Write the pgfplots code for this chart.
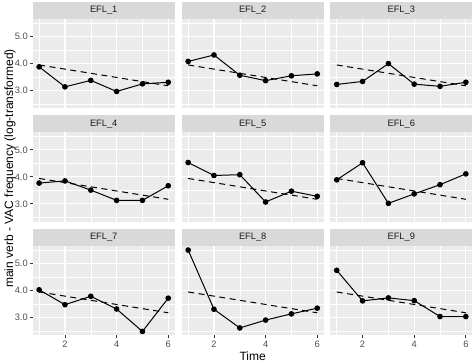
\documentclass[border=0pt]{standalone}
\usepackage{pgfplots}
\pgfplotsset{compat=1.18}
\usepackage{fontspec}
\setmainfont{Liberation Sans}
\definecolor{panelbg}{HTML}{EBEBEB}
\definecolor{stripbg}{HTML}{D9D9D9}
\definecolor{ticktext}{HTML}{4D4D4D}
\definecolor{striptext}{HTML}{1A1A1A}
\definecolor{tickcol}{HTML}{333333}
\pgfplotsset{
  facet/.style={
    scale only axis, width=142pt, height=89.5pt,
    xmin=0.75, xmax=6.25, ymin=2.33, ymax=5.64,
    axis background/.style={fill=panelbg},
    axis line style={draw=none},
    xtick={2,4,6}, ytick={3,4,5},
    minor xtick={1,3,5}, minor ytick={2.5,3.5,4.5,5.5},
    grid=both,
    major grid style={white, line width=1.1pt},
    minor grid style={white, line width=0.55pt},
    tick align=outside, xtick pos=bottom, ytick pos=left,
    major tick length=3pt, minor tick length=0pt,
    tick style={tickcol, line width=0.8pt},
    /pgf/number format/assume math mode=true,
    yticklabel style={/pgf/number format/fixed, /pgf/number format/fixed zerofill, /pgf/number format/precision=1,
      font=\fontsize{9.3}{10}\selectfont, text=ticktext, inner sep=0pt, xshift=-1.8pt},
    xticklabel style={font=\fontsize{9.3}{10}\selectfont, text=ticktext, inner sep=0pt, yshift=-2.3pt},
    anchor=north west,
    every axis title/.style={at={(0.5,1)}, anchor=south, fill=stripbg, minimum width=142pt,
      minimum height=17pt, inner sep=0pt, text=striptext, font=\fontsize{9.3}{10}\selectfont},
  },
  nox/.style={xticklabels={}, xtick style={draw=none}},
  noy/.style={yticklabels={}, ytick style={draw=none}},
  dat/.style={black, line width=1pt, mark=*, mark size=2.3pt},
  trend/.style={black, line width=1pt, dash pattern=on 6pt off 4.5pt},
}
\begin{document}
\begin{tikzpicture}
\path[use as bounding box] (0,0) rectangle (474pt,-363pt);
% row 1
\begin{axis}[facet, nox, at={(32.7pt,-19pt)}, title={EFL\_1}]
\addplot[dat] coordinates {(1,3.87) (2,3.13) (3,3.37) (4,2.96) (5,3.24) (6,3.30)};
\addplot[trend] coordinates {(1,3.94) (6,3.17)};
\end{axis}
\begin{axis}[facet, nox, noy, at={(181.7pt,-19pt)}, title={EFL\_2}]
\addplot[dat] coordinates {(1,4.07) (2,4.31) (3,3.56) (4,3.36) (5,3.54) (6,3.61)};
\addplot[trend] coordinates {(1,3.94) (6,3.17)};
\end{axis}
\begin{axis}[facet, nox, noy, at={(330.3pt,-19pt)}, title={EFL\_3}]
\addplot[dat] coordinates {(1,3.22) (2,3.33) (3,3.99) (4,3.23) (5,3.15) (6,3.30)};
\addplot[trend] coordinates {(1,3.94) (6,3.17)};
\end{axis}
% row 2
\begin{axis}[facet, nox, at={(32.7pt,-132.5pt)}, title={EFL\_4}]
\addplot[dat] coordinates {(1,3.77) (2,3.85) (3,3.51) (4,3.13) (5,3.13) (6,3.67)};
\addplot[trend] coordinates {(1,3.94) (6,3.17)};
\end{axis}
\begin{axis}[facet, nox, noy, at={(181.7pt,-132.5pt)}, title={EFL\_5}]
\addplot[dat] coordinates {(1,4.53) (2,4.05) (3,4.08) (4,3.07) (5,3.47) (6,3.28)};
\addplot[trend] coordinates {(1,3.94) (6,3.17)};
\end{axis}
\begin{axis}[facet, nox, noy, at={(330.3pt,-132.5pt)}, title={EFL\_6}]
\addplot[dat] coordinates {(1,3.89) (2,4.52) (3,3.02) (4,3.37) (5,3.71) (6,4.11)};
\addplot[trend] coordinates {(1,3.94) (6,3.17)};
\end{axis}
% row 3
\begin{axis}[facet, at={(32.7pt,-246pt)}, title={EFL\_7}]
\addplot[dat] coordinates {(1,4.02) (2,3.47) (3,3.78) (4,3.31) (5,2.48) (6,3.71)};
\addplot[trend] coordinates {(1,3.94) (6,3.17)};
\end{axis}
\begin{axis}[facet, noy, at={(181.7pt,-246pt)}, title={EFL\_8}]
\addplot[dat] coordinates {(1,5.49) (2,3.30) (3,2.61) (4,2.90) (5,3.13) (6,3.34)};
\addplot[trend] coordinates {(1,3.94) (6,3.17)};
\end{axis}
\begin{axis}[facet, noy, at={(330.3pt,-246pt)}, title={EFL\_9}]
\addplot[dat] coordinates {(1,4.74) (2,3.61) (3,3.72) (4,3.62) (5,3.03) (6,3.03)};
\addplot[trend] coordinates {(1,3.94) (6,3.17)};
\end{axis}
\node[font=\fontsize{12}{14}\selectfont] at (252.7pt,-356pt) {Time};
\node[font=\fontsize{12}{14}\selectfont, rotate=90] at (10pt,-168.5pt) {main verb - VAC frequency (log-transformed)};
\end{tikzpicture}
\end{document}
